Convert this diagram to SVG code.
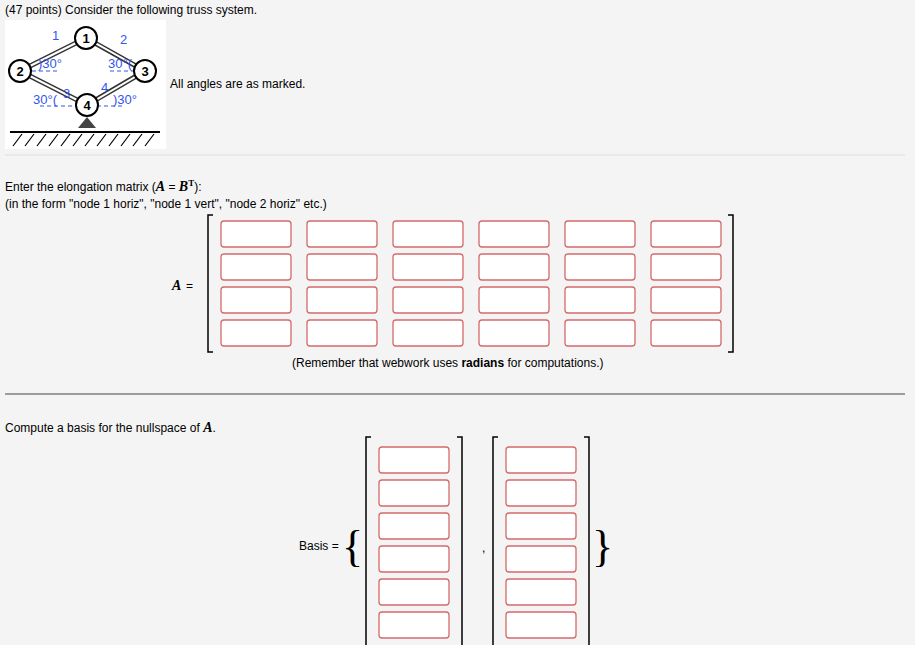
<svg xmlns="http://www.w3.org/2000/svg" width="915" height="645" viewBox="0 0 915 645">
<defs>
<style>
text{font-family:"Liberation Sans",Arial,sans-serif;font-size:12px;fill:#000}
.hw{font-family:"Liberation Sans",sans-serif;font-size:13px;fill:#3355ee}
.m{font-family:"Liberation Serif",serif;font-size:14px;font-style:italic;font-weight:bold}
.brace{font-family:"Liberation Serif",serif;font-size:44px}
.box{fill:#fff;stroke:#d46a6a;stroke-width:1.3}
.br{fill:none;stroke:#000;stroke-width:1.5}
.bar{stroke:#333;stroke-width:5;fill:none}
.bari{stroke:#fff;stroke-width:2;fill:none}
.nd{fill:#fff;stroke:#000;stroke-width:2}
.dash{stroke:#3355ee;stroke-width:1.2;stroke-dasharray:4,3;fill:none}
</style>
</defs>
<rect width="915" height="645" fill="#f4f4f4"/>
<text x="5" y="14">(47 points) Consider the following truss system.</text>
<g id="truss">
<rect x="5" y="20" width="161" height="129" fill="#fff"/>
<g id="connectors">
<path class="bar" d="M20,71 L86,38 L145,71 L87,105 Z"/>
<path class="bari" d="M20,71 L86,38 L145,71 L87,105 Z"/>
</g>
<path class="dash" d="M32,71 H57 M110,71 H135 M40,106 H78 M97,106 H125"/>
<g id="node1"><circle class="nd" cx="86" cy="38" r="11"/><text x="86" y="43" text-anchor="middle" font-weight="bold" style="font-size:13px">1</text></g>
<g id="node2"><circle class="nd" cx="20" cy="71" r="11"/><text x="20" y="76" text-anchor="middle" font-weight="bold" style="font-size:13px">2</text></g>
<g id="node3"><circle class="nd" cx="145" cy="71" r="11"/><text x="145" y="76" text-anchor="middle" font-weight="bold" style="font-size:13px">3</text></g>
<g id="node4"><circle class="nd" cx="87" cy="105" r="11"/><text x="87" y="110" text-anchor="middle" font-weight="bold" style="font-size:13px">4</text></g>
<path d="M78,128 L87,117 L96,128 Z" fill="#444"/>
<path d="M10,132 H160" stroke="#000" stroke-width="2"/>
<path d="M22,134 l-9,12 M34,134 l-9,12 M46,134 l-9,12 M58,134 l-9,12 M70,134 l-9,12 M82,134 l-9,12 M94,134 l-9,12 M106,134 l-9,12 M118,134 l-9,12 M130,134 l-9,12 M142,134 l-9,12 M154,134 l-9,12" stroke="#000" stroke-width="1.2"/>
<text class="hw" x="52" y="40">1</text><text class="hw" x="120" y="44">2</text>
<text class="hw" x="63" y="98">3</text><text class="hw" x="101" y="92">4</text>
<text class="hw" x="38" y="68">)30°</text><text class="hw" x="108" y="68">30°(</text>
<text class="hw" x="33" y="104">30°(</text><text class="hw" x="113" y="104">)30°</text>
</g>
<text x="170" y="88">All angles are as marked.</text>
<line x1="5" y1="155" x2="905" y2="155" stroke="#ddd"/>
<text x="5" y="191">Enter the elongation matrix (<tspan class="m">A</tspan> = <tspan class="m">B</tspan><tspan style="font-size:9px;font-family:'Liberation Serif',serif;font-weight:bold" dy="-5">T</tspan><tspan dy="5">):</tspan></text>
<text x="5" y="208">(in the form "node 1 horiz", "node 1 vert", "node 2 horiz" etc.)</text>
<text x="172" y="290" class="m">A</text><text x="186" y="290">=</text>
<path class="br" d="M213,215 H208 V352 H213 M728,215 H733 V352 H728"/>
<g id="matrixA">
<rect class="box" x="221" y="221" width="70" height="26" rx="3"/><rect class="box" x="307" y="221" width="70" height="26" rx="3"/><rect class="box" x="393" y="221" width="70" height="26" rx="3"/><rect class="box" x="479" y="221" width="70" height="26" rx="3"/><rect class="box" x="565" y="221" width="70" height="26" rx="3"/><rect class="box" x="651" y="221" width="70" height="26" rx="3"/>
<rect class="box" x="221" y="254" width="70" height="26" rx="3"/><rect class="box" x="307" y="254" width="70" height="26" rx="3"/><rect class="box" x="393" y="254" width="70" height="26" rx="3"/><rect class="box" x="479" y="254" width="70" height="26" rx="3"/><rect class="box" x="565" y="254" width="70" height="26" rx="3"/><rect class="box" x="651" y="254" width="70" height="26" rx="3"/>
<rect class="box" x="221" y="287" width="70" height="26" rx="3"/><rect class="box" x="307" y="287" width="70" height="26" rx="3"/><rect class="box" x="393" y="287" width="70" height="26" rx="3"/><rect class="box" x="479" y="287" width="70" height="26" rx="3"/><rect class="box" x="565" y="287" width="70" height="26" rx="3"/><rect class="box" x="651" y="287" width="70" height="26" rx="3"/>
<rect class="box" x="221" y="320" width="70" height="26" rx="3"/><rect class="box" x="307" y="320" width="70" height="26" rx="3"/><rect class="box" x="393" y="320" width="70" height="26" rx="3"/><rect class="box" x="479" y="320" width="70" height="26" rx="3"/><rect class="box" x="565" y="320" width="70" height="26" rx="3"/><rect class="box" x="651" y="320" width="70" height="26" rx="3"/>
</g>
<text x="292" y="367">(Remember that webwork uses <tspan font-weight="bold">radians</tspan> for computations.)</text>
<line x1="5" y1="394" x2="905" y2="394" stroke="#444"/>
<text x="5" y="432">Compute a basis for the nullspace of <tspan class="m">A</tspan>.</text>
<text x="299" y="550">Basis =</text>
<text class="brace" x="342" y="561">{</text>
<text class="brace" x="592" y="561">}</text>
<text x="482" y="552">,</text>
<path class="br" d="M371,437 H366 V650 M457,437 H462 V650 M498,437 H493 V650 M584,437 H589 V650" stroke-width="1"/>
<g id="basis">
<rect class="box" x="379" y="447" width="70" height="26" rx="3"/><rect class="box" x="379" y="480" width="70" height="26" rx="3"/><rect class="box" x="379" y="513" width="70" height="26" rx="3"/><rect class="box" x="379" y="546" width="70" height="26" rx="3"/><rect class="box" x="379" y="579" width="70" height="26" rx="3"/><rect class="box" x="379" y="612" width="70" height="26" rx="3"/>
<rect class="box" x="506" y="447" width="70" height="26" rx="3"/><rect class="box" x="506" y="480" width="70" height="26" rx="3"/><rect class="box" x="506" y="513" width="70" height="26" rx="3"/><rect class="box" x="506" y="546" width="70" height="26" rx="3"/><rect class="box" x="506" y="579" width="70" height="26" rx="3"/><rect class="box" x="506" y="612" width="70" height="26" rx="3"/>
</g>
</svg>
